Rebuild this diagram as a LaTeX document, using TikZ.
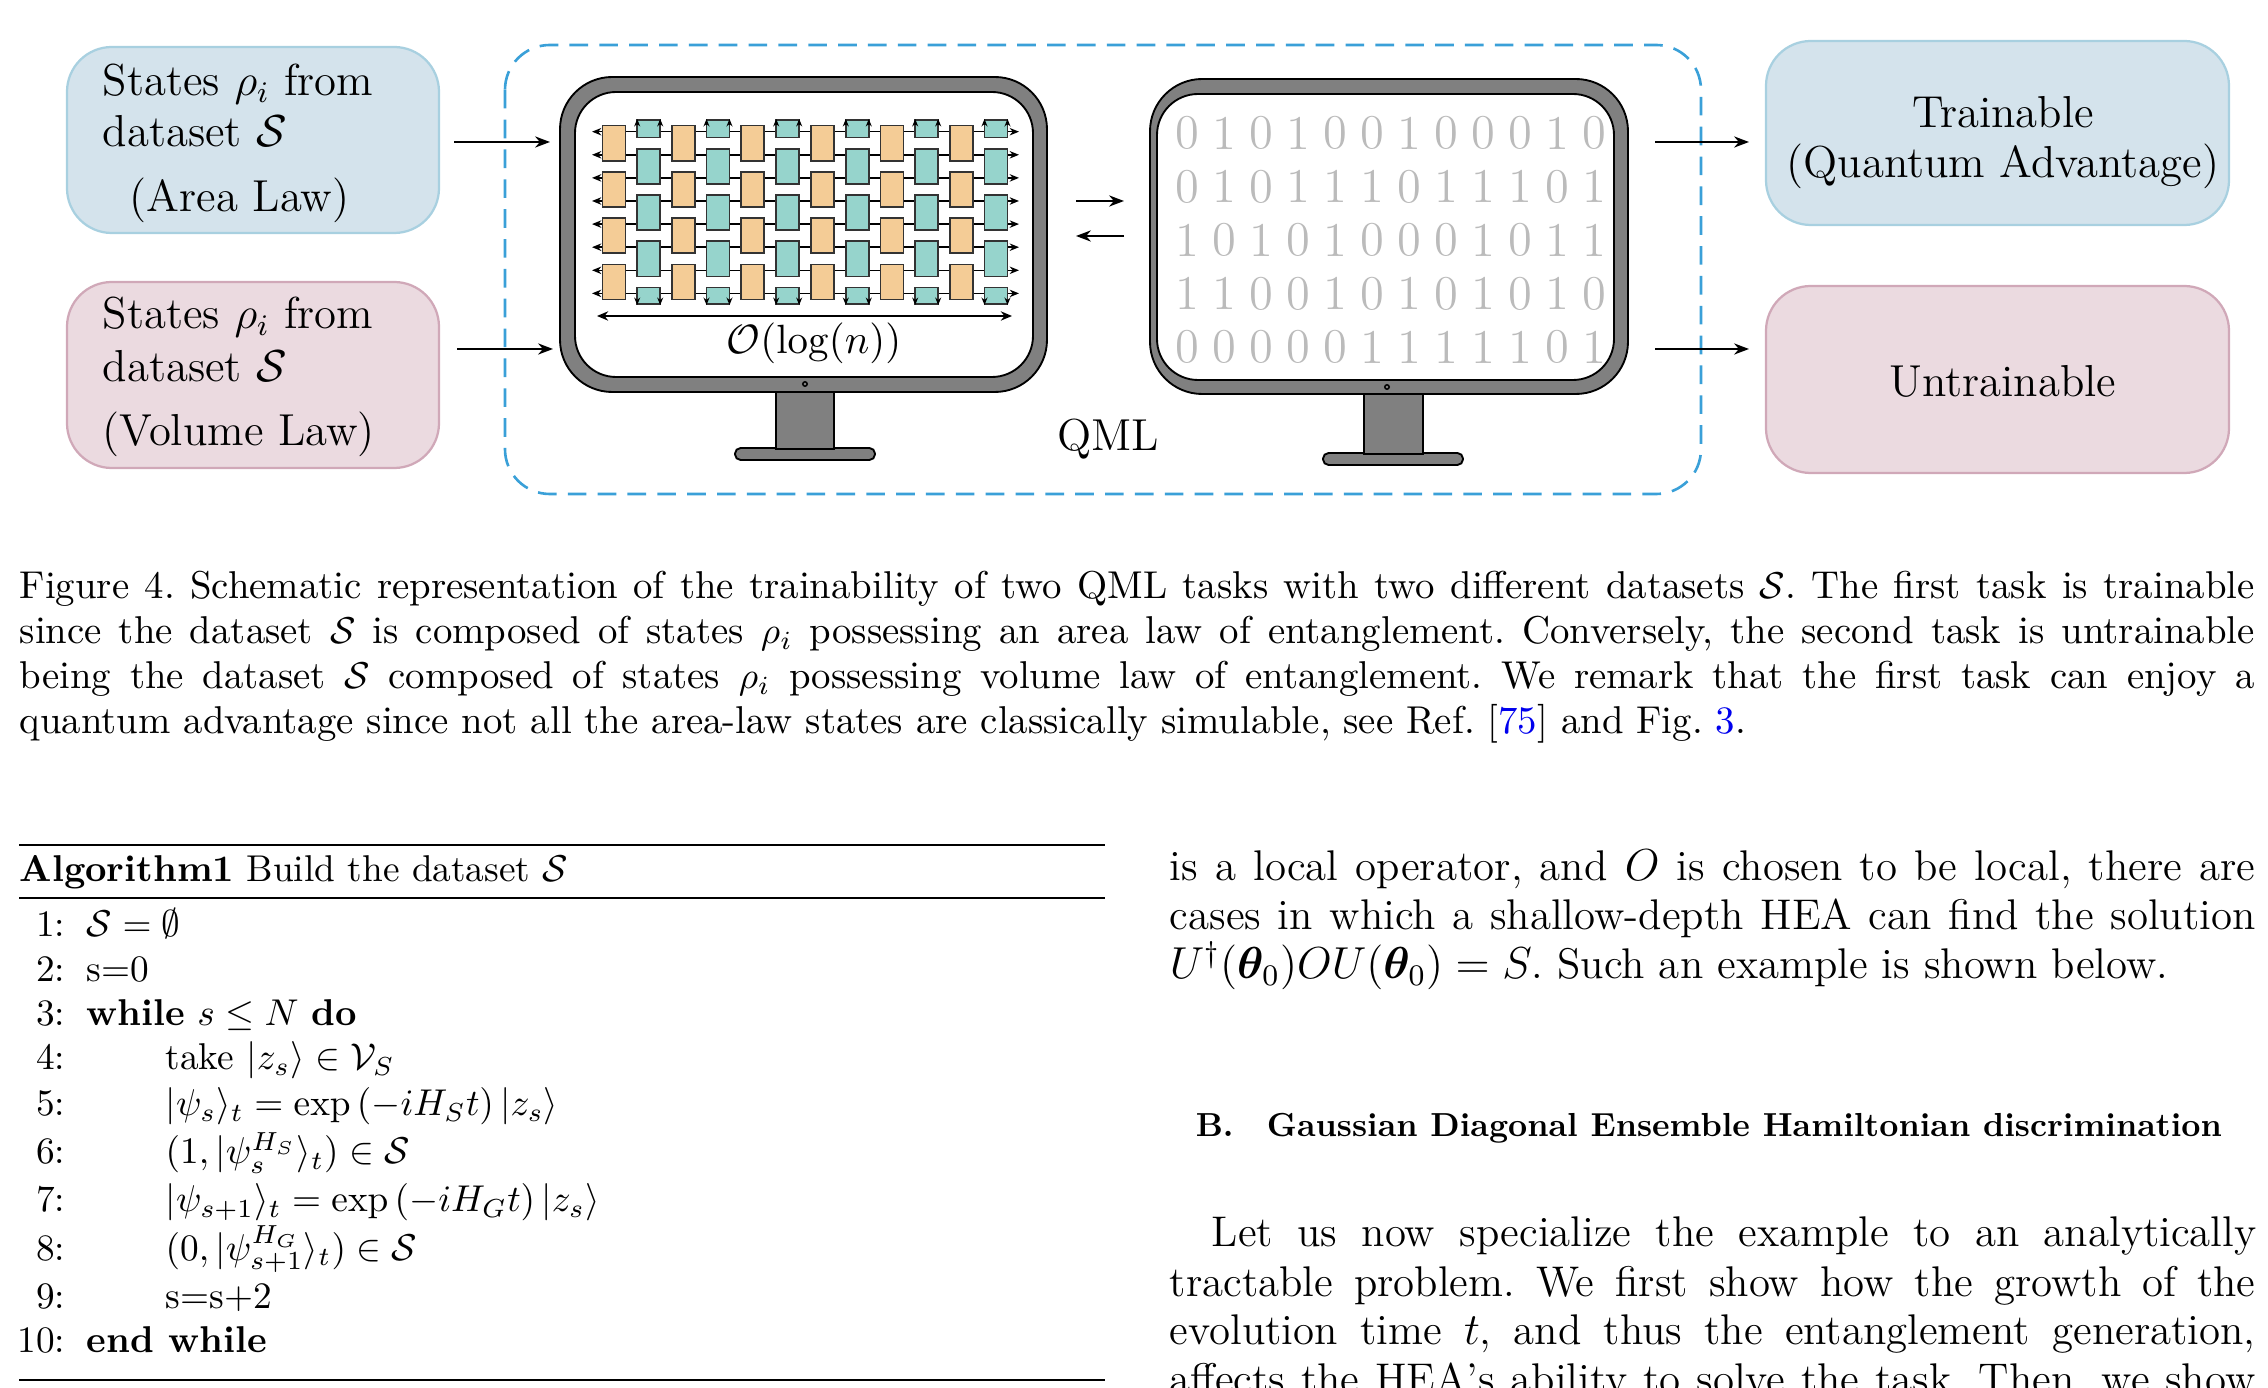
\documentclass[tikz,border=0pt]{standalone}
\usepackage{amsmath,amssymb,bm,graphicx}
\usetikzlibrary{arrows.meta}
\definecolor{bbox}{HTML}{D4E3EC}\definecolor{bbord}{HTML}{A8D0E0}
\definecolor{pbox}{HTML}{EBDAE0}\definecolor{pbord}{HTML}{D0A8B8}
\definecolor{dashc}{HTML}{3AA0D8}\definecolor{og}{HTML}{F4CC96}\definecolor{tg}{HTML}{96D4CC}
\definecolor{mon}{HTML}{808080}\definecolor{dig}{HTML}{BBBBBB}\definecolor{lnk}{HTML}{0000EE}
\tikzset{
 inbox/.style={rounded corners=12pt,line width=0.6pt},
 arr/.style={-{Stealth[length=4pt,width=3pt]},line width=0.5pt},
 gateo/.style={fill=og,draw=black!80,line width=0.4pt},
 gatet/.style={fill=tg,draw=black!80,line width=0.4pt},
 txt/.style={anchor=base west,inner sep=0pt},
 bigt/.style={font=\fontsize{12}{15}\selectfont,inner sep=0pt},
 digit/.style={font=\fontsize{13}{15}\selectfont,text=dig,inner sep=0pt},
}
\newcommand{\jl}[1]{\makebox[599pt][s]{#1}}
\newcommand{\jr}[1]{\makebox[291pt][s]{#1}}
\frenchspacing
\begin{document}
\begin{tikzpicture}[x=0.268pt,y=-0.268pt]
\useasboundingbox[fill=white] (0,0) rectangle (2268,1388);
% input boxes
\draw[inbox,fill=bbox,draw=bbord] (67,47) rectangle (439,233);
\draw[inbox,fill=pbox,draw=pbord] (67,282) rectangle (439,468);
\node[bigt,anchor=base west] (a1) at (102,96) {States $\rho_i$ from};
\node[bigt,anchor=base west] (a2) at (102,147) {dataset $\mathcal{S}$};
\node[bigt,anchor=base west] (a3) at (129,212) {(Area Law)};
\node[bigt,anchor=base west] (b1) at (102,329) {States $\rho_i$ from};
\node[bigt,anchor=base west] (b2) at (102,382) {dataset $\mathcal{S}$};
\node[bigt,anchor=base west] (b3) at (102,446) {(Volume Law)};
% output boxes
\draw[inbox,fill=bbox,draw=bbord] (1766,41) rectangle (2229,225);
\draw[inbox,fill=pbox,draw=pbord] (1766,286) rectangle (2229,473);
\node[bigt] (c1) at (2003,112) {Trainable};
\node[bigt] (c2) at (2003,166) {(Quantum Advantage)};
\node[bigt] (d1) at (2003,381) {Untrainable};
% dashed QML box
\draw[dashc,line width=0.7pt,dash pattern=on 5pt off 3pt,rounded corners=12pt] (505,45) rectangle (1701,494);
\node[bigt] (qml) at (1108,439) {QML};
% arrows
\coordinate (p1) at (454,142);\coordinate (q1) at (550,142);
\coordinate (p2) at (457,349);\coordinate (q2) at (553,349);
\coordinate (p3) at (1655,142);\coordinate (q3) at (1749,142);
\coordinate (p4) at (1655,349);\coordinate (q4) at (1749,349);
\coordinate (m1) at (1076,201);\coordinate (m2) at (1124,201);
\coordinate (m3) at (1124,236);\coordinate (m4) at (1076,236);
\foreach \s/\t in {p1/q1,p2/q2,p3/q3,p4/q4,m1/m2,m3/m4} \draw[arr] (\s) -- (\t);
% monitor 1
\draw[fill=mon,line width=0.5pt,rounded corners=1.5pt] (735,448) rectangle (875,460);
\draw[fill=mon,line width=0.5pt] (776,390) rectangle (834,449);
\draw[fill=mon,line width=0.5pt,rounded corners=14pt] (560,77) rectangle (1047,392);
\draw[fill=white,line width=0.5pt,rounded corners=11pt] (575,92) rectangle (1033,377);
\draw[line width=0.4pt] (805,384) circle (2.2);
% circuit
\foreach \k in {0,...,7} \draw[{Stealth[length=2.5pt,width=2pt]}-{Stealth[length=2.5pt,width=2pt]},line width=0.4pt] (592,131.7+23.1*\k) -- (1019,131.7+23.1*\k);
\foreach \cx in {614,683.3,752.7,822.7,892,961.7}
 \foreach \k in {0,2,4,6}
  \draw[gateo] (\cx-11.5,131.7+23.1*\k-6) rectangle (\cx+11.5,131.7+23.1*\k+23.1+6);
\foreach \cx in {648.7,718,787.7,857.3,926.7,996}{
 \foreach \k in {1,3,5}
  \draw[gatet] (\cx-11.5,131.7+23.1*\k-6) rectangle (\cx+11.5,131.7+23.1*\k+23.1+6);
 \draw[gatet] (\cx-11.5,120) rectangle (\cx+11.5,137.7);
 \draw[gatet] (\cx-11.5,287.3) rectangle (\cx+11.5,304);
 \foreach \dx in {-11.5,11.5}{
  \draw[-{Stealth[length=2pt,width=1.6pt]},line width=0.3pt] (\cx+\dx,124) -- (\cx+\dx,119);
  \draw[-{Stealth[length=2pt,width=1.6pt]},line width=0.3pt] (\cx+\dx,300) -- (\cx+\dx,305);}
}
\coordinate (w1) at (597,316);\coordinate (w2) at (1012,316);
\draw[{Stealth[length=3pt,width=2.5pt]}-{Stealth[length=3pt,width=2.5pt]},line width=0.4pt] (w1) -- (w2);
\node[inner sep=0pt,font=\fontsize{10.5}{13}\selectfont] (olog) at (814,343) {$\mathcal{O}(\log(n))$};
% monitor 2
\draw[fill=mon,line width=0.5pt,rounded corners=1.5pt] (1323,453) rectangle (1463,465);
\draw[fill=mon,line width=0.5pt] (1364,393) rectangle (1423,454);
\draw[fill=mon,line width=0.5pt,rounded corners=14pt] (1150,79) rectangle (1628,394);
\draw[fill=white,line width=0.5pt,rounded corners=11pt] (1157,94) rectangle (1614,380);
\draw[line width=0.4pt] (1387,387) circle (2.2);
\foreach \row [count=\r from 0] in {{0,1,0,1,0,0,1,0,0,0,1,0},{0,1,0,1,1,1,0,1,1,1,0,1},{1,0,1,0,1,0,0,0,1,0,1,1},{1,1,0,0,1,0,1,0,1,0,1,0},{0,0,0,0,0,1,1,1,1,1,0,1}}
 \foreach \d [count=\c from 0] in \row
  \node[digit] (dg\r\c) at (1187+37*\c,133+53.5*\r) {\d};
% caption
\begin{scope}[every node/.style={txt,font=\fontsize{10.4}{12}\selectfont}]
\node (cap1) at (19,599) {\jl{Figure 4. Schematic representation of the trainability of two QML tasks with two different datasets $\mathcal{S}$. The first task is trainable}};
\node (cap2) at (19,644) {\jl{since the dataset $\mathcal{S}$ is composed of states $\rho_i$ possessing an area law of entanglement. Conversely, the second task is untrainable}};
\node (cap3) at (19,689) {\jl{being the dataset $\mathcal{S}$ composed of states $\rho_i$ possessing volume law of entanglement. We remark that the first task can enjoy a}};
\node (cap4) at (19,734) {quantum advantage since not all the area-law states are classically simulable, see Ref. [{\color{lnk}75}] and Fig. {\color{lnk}3}.};
\end{scope}
% algorithm
\begin{scope}[every node/.style={txt,font=\fontsize{10}{12}\selectfont}]
\node (at) at (19,882) {\textbf{Algorithm1} Build the dataset $\mathcal{S}$};
\node[anchor=base east] (n1) at (66,937) {1:}; \node (l1) at (86,937) {$\mathcal{S}=\emptyset$};
\node[anchor=base east] (n2) at (66,982) {2:}; \node (l2) at (86,982) {s=0};
\node[anchor=base east] (n3) at (66,1026) {3:}; \node (l3) at (86,1026) {\textbf{while} $s\leq N$ \textbf{do}};
\node[anchor=base east] (n4) at (66,1070) {4:}; \node (l4) at (165,1070) {take $|z_s\rangle\in\mathcal{V}_S$};
\node[anchor=base east] (n5) at (66,1116) {5:}; \node (l5) at (165,1116) {$|\psi_s\rangle_t=\exp\left(-iH_St\right)|z_s\rangle$};
\node[anchor=base east] (n6) at (66,1164) {6:}; \node (l6) at (165,1164) {$(1,|\psi_s^{H_S}\rangle_t)\in\mathcal{S}$};
\node[anchor=base east] (n7) at (66,1212) {7:}; \node (l7) at (165,1212) {$|\psi_{s+1}\rangle_t=\exp\left(-iH_Gt\right)|z_s\rangle$};
\node[anchor=base east] (n8) at (66,1260) {8:}; \node (l8) at (165,1260) {$(0,|\psi_{s+1}^{H_G}\rangle_t)\in\mathcal{S}$};
\node[anchor=base east] (n9) at (66,1309) {9:}; \node (l9) at (165,1309) {s=s+2};
\node[anchor=base east] (n10) at (66,1353) {10:}; \node (l10) at (86,1353) {\textbf{end while}};
\end{scope}
\draw[line width=0.8pt] (19,845) -- (1105,845);
\draw[line width=0.4pt] (19,898) -- (1105,898);
\draw[line width=0.4pt] (19,1380) -- (1105,1380);
% right column
\begin{scope}[every node/.style={txt,font=\fontsize{11.5}{13}\selectfont}]
\node (r1) at (1169,881) {\jr{is a local operator, and $O$ is chosen to be local, there are}};
\node (r2) at (1169,930) {\jr{cases in which a shallow-depth HEA can find the solution}};
\node (r3) at (1169,979) {$U^\dagger(\bm{\theta}_0)OU(\bm{\theta}_0)=S$. Such an example is shown below.};
\node[font=\fontsize{10}{12}\selectfont] (h) at (1195,1137) {\resizebox{275pt}{!}{\textbf{B.\quad Gaussian Diagonal Ensemble Hamiltonian discrimination}}};
\node (s1) at (1211,1247) {\makebox[280pt][s]{Let us now specialize the example to an analytically}};
\node (s2) at (1169,1297) {\jr{tractable problem. We first show how the growth of the}};
\node (s3) at (1169,1345) {\jr{evolution time $t$, and thus the entanglement generation,}};
\node (s4) at (1169,1393) {\jr{affects the HEA's ability to solve the task. Then, we show}};
\end{scope}
\end{tikzpicture}
\end{document}
